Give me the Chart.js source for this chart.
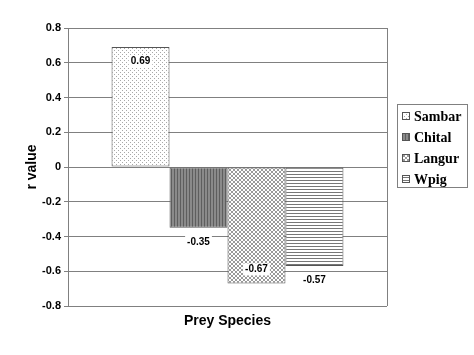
<!DOCTYPE html>
<html>
<head>
<meta charset="utf-8">
<script src="https://cdn.jsdelivr.net/npm/chart.js@4/dist/chart.umd.min.js"></script>
<style>
html,body{margin:0;padding:0;background:#fff;}
#wrap{width:474px;height:355px;}
</style>
</head>
<body>
<div id="wrap"><canvas id="c" width="474" height="355"></canvas></div>
<script>
// ---- data ----
const categories = [''];
const seriesNames = ['Sambar', 'Chital', 'Langur', 'Wpig'];
const seriesValues = [0.69, -0.35, -0.67, -0.57];
const valueLabels = ['0.69', '-0.35', '-0.67', '-0.57'];
const labelInside = [true, false, true, false];
const yTicks = [-0.8, -0.6, -0.4, -0.2, 0, 0.2, 0.4, 0.6, 0.8];

// ---- patterns ----
function makePattern(w, h, draw) {
  const c = document.createElement('canvas');
  c.width = w; c.height = h;
  const x = c.getContext('2d');
  draw(x);
  return x.createPattern(c, 'repeat');
}
const patSambar = makePattern(4, 4, x => {
  x.fillStyle = '#fff'; x.fillRect(0, 0, 4, 4);
  x.fillStyle = '#a8a8a8'; x.fillRect(0, 0, 1, 1); x.fillRect(2, 2, 1, 1);
});
const patChital = makePattern(3, 3, x => {
  x.fillStyle = '#8a8a8a'; x.fillRect(0, 0, 3, 3);
  x.fillStyle = '#5e5e5e'; x.fillRect(0, 0, 1, 3);
});
const patLangur = makePattern(4, 4, x => {
  x.fillStyle = '#fff'; x.fillRect(0, 0, 4, 4);
  x.fillStyle = '#9a9a9a';
  for (let i = 0; i < 4; i++) { x.fillRect(i, i, 1, 1); x.fillRect(3 - i, i, 1, 1); }
});
const patWpig = makePattern(3, 3, x => {
  x.fillStyle = '#fff'; x.fillRect(0, 0, 3, 3);
  x.fillStyle = '#777'; x.fillRect(0, 0, 3, 1);
});
const patterns = [patSambar, patChital, patLangur, patWpig];

const datasets = seriesNames.map((n, i) => ({
  label: n,
  data: [seriesValues[i]],
  backgroundColor: patterns[i],
  borderColor: '#555',
  borderWidth: 1,
  borderSkipped: false,
  categoryPercentage: 0.727,
  barPercentage: 1.0
}));

// ---- plugins ----
const frame = {
  id: 'frame',
  beforeDatasetsDraw(chart) {
    const {ctx, chartArea: a} = chart;
    ctx.save();
    ctx.strokeStyle = '#808080';
    ctx.lineWidth = 1;
    ctx.beginPath();
    ctx.moveTo(Math.round(a.right) + 0.5, a.top);
    ctx.lineTo(Math.round(a.right) + 0.5, a.bottom);
    ctx.stroke();
    ctx.restore();
  }
};

const valueLabelPlugin = {
  id: 'valueLabels',
  afterDatasetsDraw(chart) {
    const {ctx} = chart;
    ctx.save();
    ctx.font = 'bold 10px "Liberation Sans", Arial, sans-serif';
    ctx.textAlign = 'center';
    ctx.textBaseline = 'middle';
    chart.data.datasets.forEach((ds, i) => {
      const el = chart.getDatasetMeta(i).data[0];
      const v = seriesValues[i];
      const dir = v >= 0 ? -1 : 1;
      const off = 14;
      const y = labelInside[i] ? el.y - dir * off : el.y + dir * off;
      const tw = ctx.measureText(valueLabels[i]).width;
      ctx.fillStyle = '#fff';
      ctx.fillRect(el.x - tw / 2 - 2, y - 6, tw + 4, 12);
      ctx.fillStyle = '#000';
      ctx.fillText(valueLabels[i], el.x, y);
    });
    ctx.restore();
  }
};

const customLegend = {
  id: 'customLegend',
  afterDraw(chart) {
    const {ctx, chartArea: a} = chart;
    const x0 = a.right + 10, y0 = a.top + 76, w = 70, h = 83;
    ctx.save();
    ctx.fillStyle = '#fff';
    ctx.fillRect(x0, y0, w, h);
    ctx.strokeStyle = '#808080';
    ctx.lineWidth = 1;
    ctx.strokeRect(Math.round(x0) + 0.5, Math.round(y0) + 0.5, w, h);
    ctx.font = 'bold 14px "Liberation Serif", "Times New Roman", serif';
    ctx.textBaseline = 'middle';
    ctx.textAlign = 'left';
    chart.data.datasets.forEach((ds, i) => {
      const cy = y0 + 12 + i * 21;
      ctx.fillStyle = ds.backgroundColor;
      ctx.fillRect(x0 + 5, cy - 4, 8, 8);
      ctx.strokeStyle = '#555';
      ctx.strokeRect(x0 + 5.5, cy - 3.5, 7, 7);
      ctx.fillStyle = '#000';
      ctx.fillText(ds.label, x0 + 17, cy + 1);
    });
    ctx.restore();
  }
};

new Chart(document.getElementById('c'), {
  type: 'bar',
  data: { labels: categories, datasets },
  options: {
    responsive: false,
    animation: false,
    devicePixelRatio: 1,
    layout: { padding: { top: 28, right: 87, left: 0, bottom: 0 } },
    plugins: { legend: { display: false }, tooltip: { enabled: false } },
    scales: {
      x: {
        ticks: { display: false },
        grid: { display: false, drawTicks: false },
        border: { display: false },
        title: {
          display: true, text: 'Prey Species', color: '#000',
          font: { family: '"Liberation Sans", Arial, sans-serif', size: 14, weight: 'bold' },
          padding: { top: 0, bottom: 25.6 }
        },
        afterFit(s) { s.height = 49; }
      },
      y: {
        min: -0.8, max: 0.8,
        afterBuildTicks(s) { s.ticks = yTicks.map(v => ({ value: v })); },
        ticks: {
          color: '#000', padding: 3,
          font: { family: '"Liberation Sans", Arial, sans-serif', size: 11, weight: 'bold' },
          callback: v => Math.abs(v) < 1e-9 ? '0' : String(Math.round(v * 10) / 10)
        },
        grid: { color: '#808080', lineWidth: 1, tickLength: 4, tickColor: '#808080' },
        border: { color: '#808080', width: 1 },
        title: {
          display: true, text: 'r value', color: '#000',
          font: { family: '"Liberation Sans", Arial, sans-serif', size: 14, weight: 'bold' },
          padding: { top: 23.6, bottom: 0 }
        },
        afterFit(s) { s.width = 68; }
      }
    }
  },
  plugins: [frame, valueLabelPlugin, customLegend]
});
</script>
</body>
</html>
